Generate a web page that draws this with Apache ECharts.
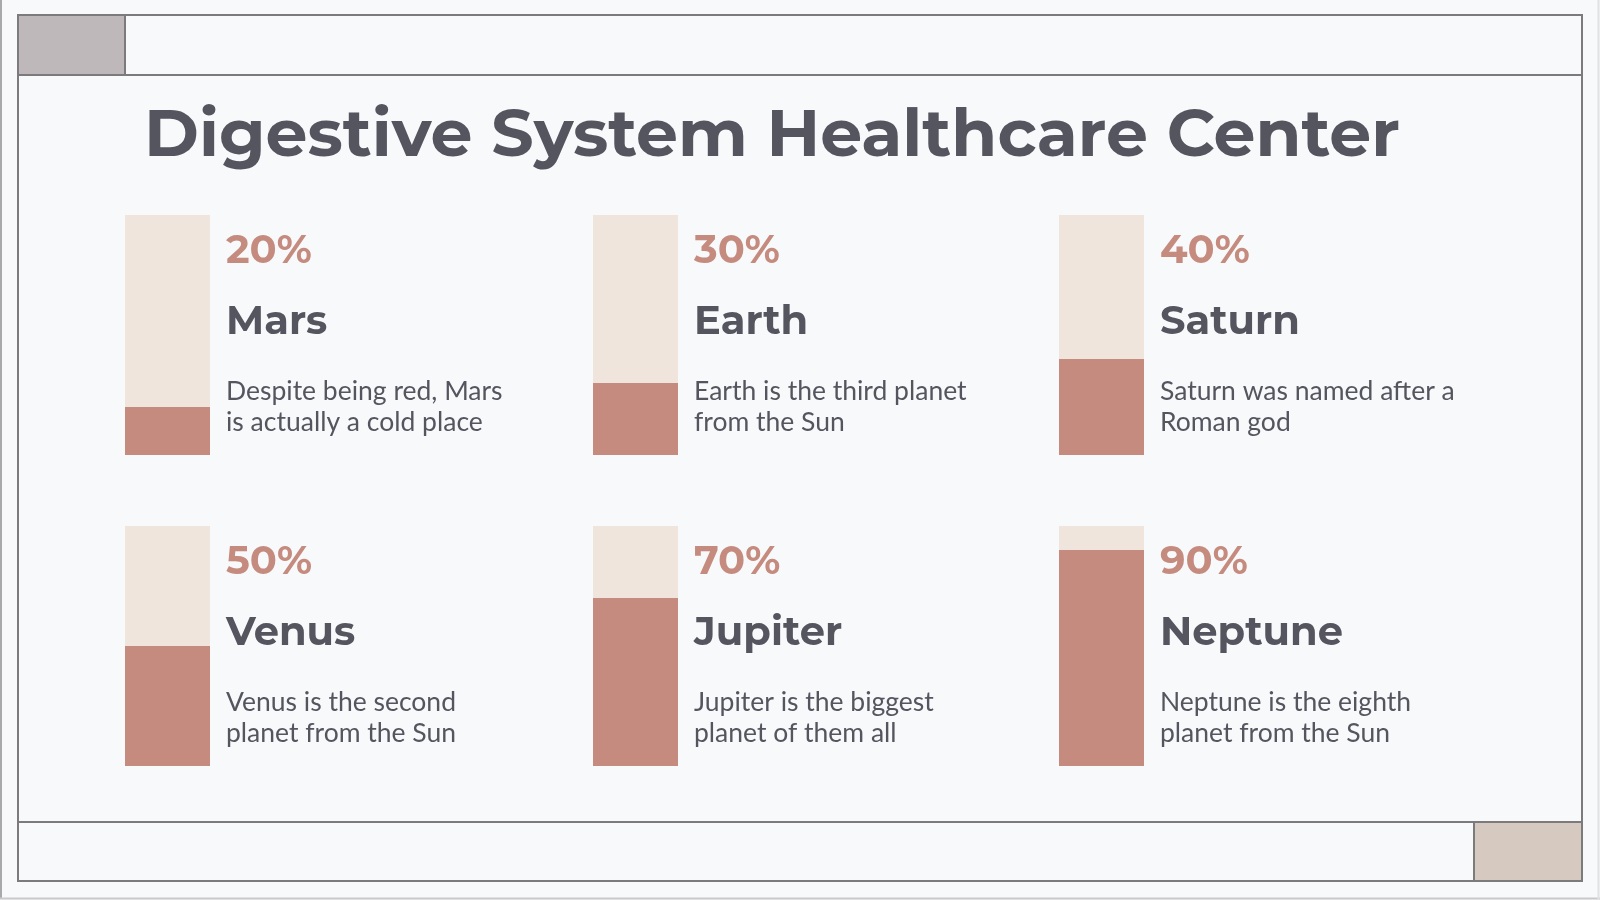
<!DOCTYPE html>
<html>
<head>
<meta charset="utf-8">
<script src="https://cdn.jsdelivr.net/npm/echarts@6/dist/echarts.min.js"></script>
<style>
  html, body { margin: 0; padding: 0; background: #f8f9fb; }
  #main { width: 1600px; height: 900px; }
</style>
</head>
<body>
<div id="main"></div>
<script>
// data
var planets = ['Mars', 'Earth', 'Saturn', 'Venus', 'Jupiter', 'Neptune'];
var percents = [20, 30, 40, 50, 70, 90];
var descriptions = [
  'Despite being red, Mars\nis actually a cold place',
  'Earth is the third planet\nfrom the Sun',
  'Saturn was named after a\nRoman god',
  'Venus is the second\nplanet from the Sun',
  'Jupiter is the biggest\nplanet of them all',
  'Neptune is the eighth\nplanet from the Sun'
];
var titleText = 'Digestive System Healthcare Center';

var colLeft = [125, 593, 1059];
var rowTop = [215, 526];
var barW = 85, barH = 240;
var darkText = '#55555f';
var accent = '#c58b7e';

var chart = echarts.init(document.getElementById('main'));

var grids = [], xAxes = [], yAxes = [], series = [], texts = [];
planets.forEach(function (name, i) {
  var left = colLeft[i % 3];
  var top = rowTop[Math.floor(i / 3)];
  grids.push({ left: left, top: top, width: barW, height: barH });
  xAxes.push({ type: 'category', gridIndex: i, data: [name], show: false });
  yAxes.push({ type: 'value', gridIndex: i, min: 0, max: 100, show: false });
  series.push({
    type: 'bar',
    xAxisIndex: i,
    yAxisIndex: i,
    barWidth: '100%',
    data: [percents[i]],
    itemStyle: { color: accent },
    showBackground: true,
    backgroundStyle: { color: '#efe5dd' },
    silent: true
  });
  var tx = left + 101;
  texts.push({
    type: 'text', x: tx, y: top + 36,
    style: { text: percents[i] + '%', font: 'bold 40px Montserrat, Inter, sans-serif', fill: accent, verticalAlign: 'middle' }
  });
  texts.push({
    type: 'text', x: tx, y: top + 107,
    style: { text: name, font: 'bold 40px Montserrat, Inter, sans-serif', fill: darkText, verticalAlign: 'middle' }
  });
  texts.push({
    type: 'text', x: tx, y: top + 192,
    style: { text: descriptions[i], font: '26.5px Lato, sans-serif', lineHeight: 31.5, fill: darkText, verticalAlign: 'middle' }
  });
});

var frame = [
  // outer page edge
  { type: 'line', shape: { x1: 1, y1: 0, x2: 1, y2: 899 }, style: { stroke: '#a9a9ab', lineWidth: 2 } },
  { type: 'line', shape: { x1: 0, y1: 898.5, x2: 1600, y2: 898.5 }, style: { stroke: '#c9c9cb', lineWidth: 2 } },
  { type: 'line', shape: { x1: 1598.5, y1: 0, x2: 1598.5, y2: 900 }, style: { stroke: '#e2e2e4', lineWidth: 2 } },
  // corner squares
  { type: 'rect', shape: { x: 18, y: 15, width: 107, height: 60 }, style: { fill: '#bfb8bb' } },
  { type: 'rect', shape: { x: 1474, y: 822, width: 108, height: 59 }, style: { fill: '#d5c9c0' } },
  // main frame
  { type: 'rect', shape: { x: 18, y: 15, width: 1564, height: 866 }, style: { fill: null, stroke: '#7d7a7d', lineWidth: 2 } },
  { type: 'line', shape: { x1: 18, y1: 75, x2: 1582, y2: 75 }, style: { stroke: '#7d7a7d', lineWidth: 2 } },
  { type: 'line', shape: { x1: 18, y1: 822, x2: 1582, y2: 822 }, style: { stroke: '#7d7a7d', lineWidth: 2 } },
  { type: 'line', shape: { x1: 125, y1: 15, x2: 125, y2: 75 }, style: { stroke: '#7d7a7d', lineWidth: 2 } },
  { type: 'line', shape: { x1: 1474, y1: 822, x2: 1474, y2: 881 }, style: { stroke: '#7d7a7d', lineWidth: 2 } },
  // title
  { type: 'text', x: 144, y: 136, style: { text: titleText, font: 'bold 66.5px Montserrat, Inter, sans-serif', fill: darkText, verticalAlign: 'middle' } }
];

chart.setOption({
  backgroundColor: '#f8f9fb',
  animation: false,
  grid: grids,
  xAxis: xAxes,
  yAxis: yAxes,
  series: series,
  graphic: frame.concat(texts)
});
</script>
</body>
</html>
